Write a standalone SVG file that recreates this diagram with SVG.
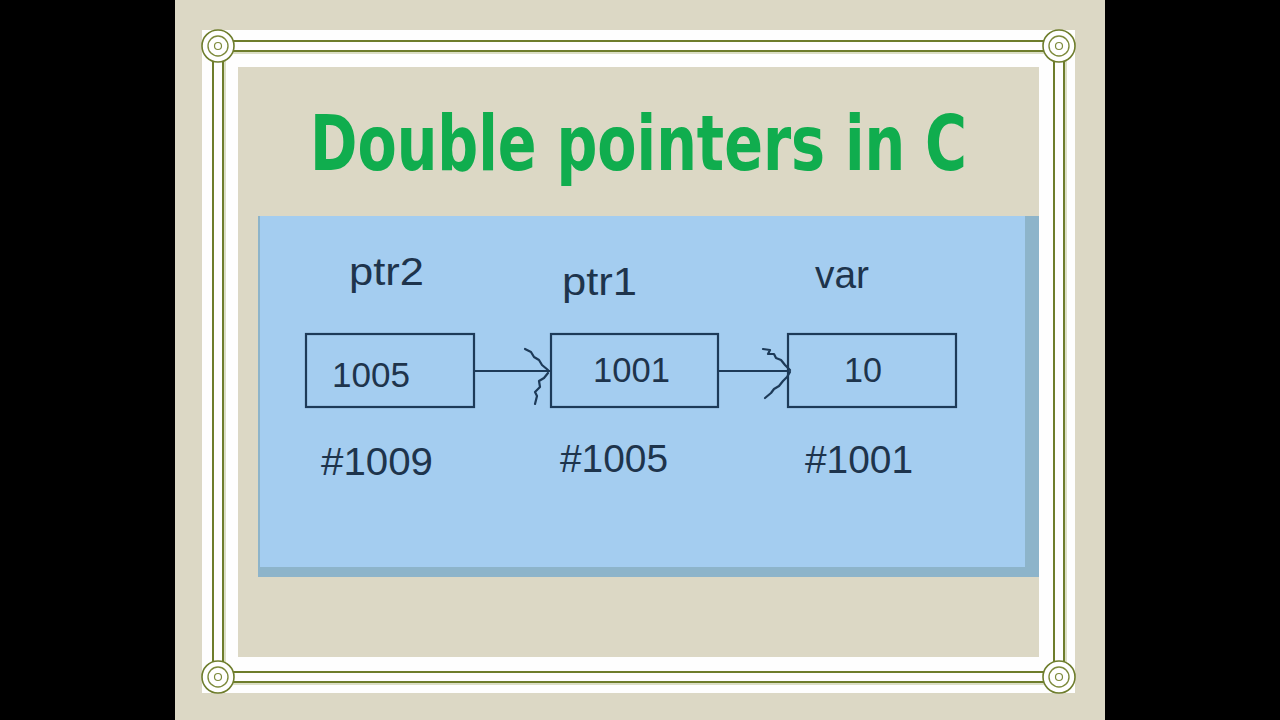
<svg xmlns="http://www.w3.org/2000/svg" width="1280" height="720" viewBox="0 0 1280 720">
  <defs>
    <style>
      .frameline { stroke: #6e7d2c; stroke-width: 2; fill: none; }
      .frameline2 { stroke: #b9c08e; stroke-width: 1; fill: none; }
      .box { fill: none; stroke: #1d3a58; stroke-width: 2.2; }
      .lbl { font-family: "Liberation Sans", "Open Sans", sans-serif; fill: #1e344c; }
      .conn { stroke: #1d3a58; stroke-width: 2.2; fill: none; stroke-linecap: round; stroke-linejoin: round; }
    </style>
    <g id="rosette">
      <circle r="16" fill="#ffffff" stroke="#6e7d2c" stroke-width="1.6"/>
      <circle r="10" fill="none" stroke="#7d8a3c" stroke-width="1.4"/>
      <circle r="3.5" fill="none" stroke="#7d8a3c" stroke-width="1.2"/>
    </g>
  </defs>

  <rect x="0" y="0" width="1280" height="720" fill="#000000"/>
  <rect x="175" y="0" width="930" height="720" fill="#dcd8c5"/>

  <!-- decorative frame -->
  <g id="frame">
    <rect x="202" y="30" width="873" height="663" fill="#fefefe"/>
    <rect x="238" y="67" width="801" height="590" fill="#dcd8c5"/>
    <line class="frameline" x1="218" y1="41" x2="1059" y2="41"/>
    <line class="frameline" x1="218" y1="51" x2="1059" y2="51"/>
    <line class="frameline2" x1="218" y1="53" x2="1059" y2="53"/>
    <line class="frameline" x1="218" y1="672" x2="1059" y2="672"/>
    <line class="frameline" x1="218" y1="682" x2="1059" y2="682"/>
    <line class="frameline2" x1="218" y1="684" x2="1059" y2="684"/>
    <line class="frameline" x1="213" y1="46" x2="213" y2="677"/>
    <line class="frameline" x1="223" y1="46" x2="223" y2="677"/>
    <line class="frameline2" x1="225" y1="46" x2="225" y2="677"/>
    <line class="frameline" x1="1054" y1="46" x2="1054" y2="677"/>
    <line class="frameline" x1="1064" y1="46" x2="1064" y2="677"/>
    <line class="frameline2" x1="1066" y1="46" x2="1066" y2="677"/>
    <use href="#rosette" x="218" y="46"/>
    <use href="#rosette" x="1059" y="46"/>
    <use href="#rosette" x="218" y="677"/>
    <use href="#rosette" x="1059" y="677"/>
  </g>

  <text id="title" x="310" y="170" font-family="DejaVu Sans Condensed, Liberation Sans Narrow, Liberation Sans, sans-serif" font-weight="bold" font-size="76" fill="#10ad4e" textLength="657" lengthAdjust="spacingAndGlyphs">Double pointers in C</text>

  <!-- blue panel -->
  <g id="panel">
    <rect x="258" y="216" width="781" height="361" fill="#8db4ca"/>
    <rect x="260" y="216" width="765" height="351" fill="#a4cdf0"/>
  </g>

  <g id="connectors">
    <line class="conn" x1="474" y1="371" x2="550" y2="371"/>
    <path class="conn" d="M525,349 L531,352 L534,357 L539,360 L542,365 L548,370"/>
    <path class="conn" d="M535,404 L537,396 L535,392 L540,387 L539,381 L544,378 L548,373"/>
    <line class="conn" x1="718" y1="371" x2="788" y2="371"/>
    <path class="conn" d="M763,349 L770,350 L768,354 L774,354 L776,358 L781,360 L785,365 L790,370"/>
    <path class="conn" d="M765,398 L771,393 L774,389 L779,386 L783,381 L787,377 L790,372"/>
  </g>

  <g id="ptr2">
    <text class="lbl" x="349" y="285" font-size="38" textLength="75" lengthAdjust="spacingAndGlyphs">ptr2</text>
    <rect class="box" x="306" y="334" width="168" height="73"/>
    <text class="lbl" x="332" y="387" font-size="35" textLength="78" lengthAdjust="spacingAndGlyphs">1005</text>
    <text class="lbl" x="321" y="475" font-size="38" textLength="112" lengthAdjust="spacingAndGlyphs">#1009</text>
  </g>

  <g id="ptr1">
    <text class="lbl" x="562" y="295" font-size="38" textLength="75" lengthAdjust="spacingAndGlyphs">ptr1</text>
    <rect class="box" x="551" y="334" width="167" height="73"/>
    <text class="lbl" x="593" y="382" font-size="35" textLength="77" lengthAdjust="spacingAndGlyphs">1001</text>
    <text class="lbl" x="560" y="472" font-size="38" textLength="108" lengthAdjust="spacingAndGlyphs">#1005</text>
  </g>

  <g id="var">
    <text class="lbl" x="815" y="288" font-size="38" textLength="54" lengthAdjust="spacingAndGlyphs">var</text>
    <rect class="box" x="788" y="334" width="168" height="73"/>
    <text class="lbl" x="844" y="382" font-size="35" textLength="38" lengthAdjust="spacingAndGlyphs">10</text>
    <text class="lbl" x="805" y="473" font-size="38" textLength="108" lengthAdjust="spacingAndGlyphs">#1001</text>
  </g>
</svg>
